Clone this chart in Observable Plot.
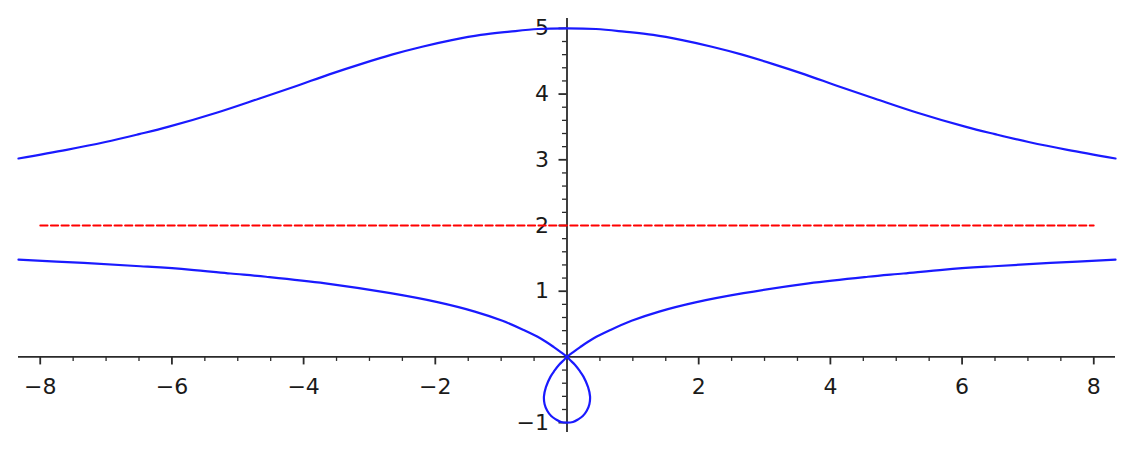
<!DOCTYPE html>
<html>
<head>
<meta charset="utf-8">
<script src="https://cdn.jsdelivr.net/npm/d3@7"></script>
<script src="https://cdn.jsdelivr.net/npm/@observablehq/plot@0.6"></script>
<style>
  html, body { margin: 0; padding: 0; background: #fff; }
  svg { display: block; }
</style>
</head>
<body>
<div id="chart"></div>
<script>
// Upper branch
const upperX = [-8.33, -7.60, -7.01, -6.50, -6.06, -5.31, -4.68, -4.12, -3.61, -3.12, -2.66, -2.20, -1.75, -1.31, -0.87, -0.44, 0,
                 0.44, 0.87, 1.31, 1.75, 2.20, 2.66, 3.12, 3.61, 4.12, 4.68, 5.31, 6.06, 6.50, 7.01, 7.60, 8.33];
const upperY = [3.02, 3.15, 3.27, 3.39, 3.50, 3.72, 3.93, 4.12, 4.30, 4.46, 4.60, 4.72, 4.82, 4.90, 4.95, 4.99, 5.00,
                4.99, 4.95, 4.90, 4.82, 4.72, 4.60, 4.46, 4.30, 4.12, 3.93, 3.72, 3.50, 3.39, 3.27, 3.15, 3.02];

// Lower branch with loop (in drawing order)
const lowerX = [-8.33, -7.34, -6.48, -5.74, -5.11, -4.57, -3.67, -2.68, -1.95, -1.40, -0.98, -0.66, -0.40, -0.20, -0.09, 0,
                0.05, 0.12, 0.19, 0.25, 0.32, 0.35, 0.34, 0.30, 0.24, 0.17, 0.09, 0,
                -0.09, -0.17, -0.24, -0.30, -0.34, -0.35, -0.32, -0.25, -0.19, -0.12, -0.05, 0,
                0.09, 0.20, 0.40, 0.66, 0.98, 1.40, 1.95, 2.68, 3.67, 4.57, 5.11, 5.74, 6.48, 7.34, 8.33];
const lowerY = [1.48, 1.43, 1.38, 1.33, 1.27, 1.22, 1.12, 0.97, 0.83, 0.69, 0.55, 0.41, 0.28, 0.15, 0.07, 0,
                -0.05, -0.12, -0.21, -0.30, -0.46, -0.60, -0.72, -0.82, -0.90, -0.95, -0.99, -1.00,
                -0.99, -0.95, -0.90, -0.82, -0.72, -0.60, -0.46, -0.30, -0.21, -0.12, -0.05, 0,
                0.07, 0.15, 0.28, 0.41, 0.55, 0.69, 0.83, 0.97, 1.12, 1.22, 1.27, 1.33, 1.38, 1.43, 1.48];

// Dashed asymptote
const asymX = [-8, 8];
const asymY = [2, 2];

// Axis ticks
const xTicks = [-8, -6, -4, -2, 2, 4, 6, 8];
const xTickLabels = ["\u22128", "\u22126", "\u22124", "\u22122", "2", "4", "6", "8"];
const yTicks = [-1, 1, 2, 3, 4, 5];
const yTickLabels = ["\u22121", "1", "2", "3", "4", "5"];

const xDomain = [-8.33, 8.33];
const yDomain = [-1.15, 5.15];

const W = 1132, H = 456;
const mL = 18, mR = 17, mT = 18, mB = 24;
const kx = (W - mL - mR) / (xDomain[1] - xDomain[0]);
const ky = (H - mT - mB) / (yDomain[1] - yDomain[0]);

const xMinor = d3.range(-8, 8.001, 0.5).filter(v => Math.abs(v % 2) > 1e-6);
const yMinor = d3.range(-1, 5.001, 0.2).map(v => +v.toFixed(1)).filter(v => Math.abs(v - Math.round(v)) > 1e-6);

const upper = upperX.map((x, i) => ({x, y: upperY[i]}));
const lower = lowerX.map((x, i) => ({x, y: lowerY[i]}));
const asym = asymX.map((x, i) => ({x, y: asymY[i]}));

const axisColor = "#2a2a2a";
const font = "DejaVu Sans, sans-serif";

const chart = Plot.plot({
  width: W, height: H,
  marginLeft: mL, marginRight: mR, marginTop: mT, marginBottom: mB,
  style: {fontFamily: font, fontSize: "22px", background: "white"},
  x: {domain: xDomain, axis: null},
  y: {domain: yDomain, axis: null},
  marks: [
    Plot.ruleY([0], {stroke: axisColor, strokeWidth: 1.8}),
    Plot.ruleX([0], {stroke: axisColor, strokeWidth: 1.8}),
    Plot.ruleX(xTicks, {x: d => d, y1: 0, y2: -8 / ky, stroke: axisColor, strokeWidth: 1.8}),
    Plot.ruleX(xMinor, {x: d => d, y1: 0, y2: -4.5 / ky, stroke: axisColor, strokeWidth: 1.3}),
    Plot.ruleY(yTicks, {y: d => d, x1: 0, x2: -8 / kx, stroke: axisColor, strokeWidth: 1.8}),
    Plot.ruleY(yMinor, {y: d => d, x1: 0, x2: -4.5 / kx, stroke: axisColor, strokeWidth: 1.3}),
    Plot.text(xTicks, {x: d => d, y: 0, text: (d, i) => xTickLabels[i], dy: 30, fill: "#1a1a1a", fontSize: 22}),
    Plot.text(yTicks, {y: d => d, x: 0, text: (d, i) => yTickLabels[i], dx: -18, textAnchor: "end", fill: "#1a1a1a", fontSize: 22}),
    Plot.line(asym, {x: "x", y: "y", stroke: "red", strokeWidth: 1.8, strokeDasharray: "7.4,3.2"}),
    Plot.line(upper, {x: "x", y: "y", stroke: "#1a1aff", strokeWidth: 2.2, curve: "catmull-rom"}),
    Plot.line(lower, {x: "x", y: "y", stroke: "#1a1aff", strokeWidth: 2.2, curve: "catmull-rom"})
  ]
});
document.getElementById("chart").appendChild(chart);
</script>
</body>
</html>
